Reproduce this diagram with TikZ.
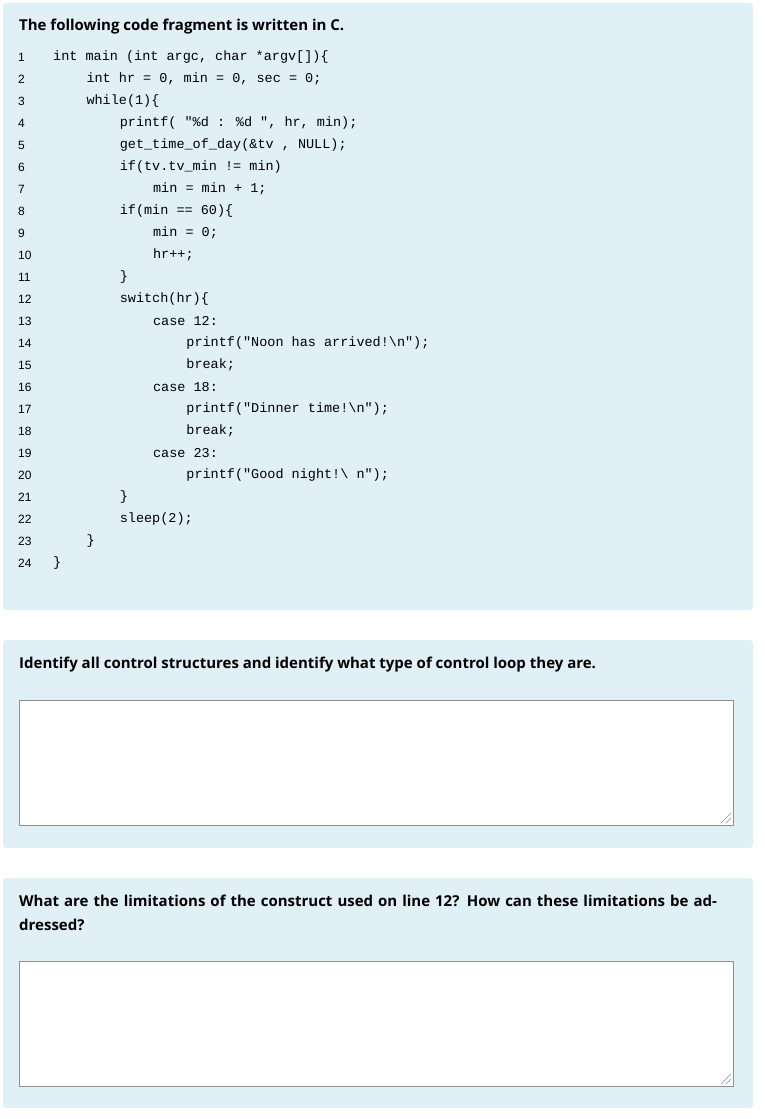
\documentclass[tikz,border=0pt]{standalone}
\usepackage{fontspec}
\setmainfont{Open Sans}
\newfontfamily\codefont{Liberation Mono}
\newfontfamily\numfont{Liberation Sans}
\definecolor{panel}{HTML}{E1EFF7}
\definecolor{boxline}{HTML}{8F8F8F}
\begin{document}
\begin{tikzpicture}[x=1pt,y=-1pt,
  title/.style={anchor=west,inner sep=0pt,font=\fontsize{15}{18}\selectfont\bfseries},
  ln/.style={anchor=west,inner sep=0pt,font=\numfont\fontsize{12}{14}\selectfont},
  code/.style={anchor=west,inner sep=0pt,font=\codefont\fontsize{13.5}{16}\selectfont},
  answer/.style={draw=boxline,fill=white,line width=0.8pt}]
\useasboundingbox (0,0) rectangle (765,1119);
\fill[white] (0,0) rectangle (765,1119);
\fill[panel,rounded corners=3pt] (3,3) rectangle (753,610);
\fill[panel,rounded corners=3pt] (3,640) rectangle (753,848);
\fill[panel,rounded corners=3pt] (3,878) rectangle (753,1108);
\node[title] (t1) at (19,27) {The following code fragment is written in C.};
\foreach \i/\lv/\txt in {
1/0/{int main (int argc, char *argv[])\{},
2/1/{int hr = 0, min = 0, sec = 0;},
3/1/{while(1)\{},
4/2/{printf( "\%d : \%d ", hr, min);},
5/2/{get\_time\_of\_day(\&tv , NULL);},
6/2/{if(tv.tv\_min != min)},
7/3/{min = min + 1;},
8/2/{if(min == 60)\{},
9/3/{min = 0;},
10/3/{hr++;},
11/2/{\}},
12/2/{switch(hr)\{},
13/3/{case 12:},
14/4/{printf("Noon has arrived!\textbackslash n");},
15/4/{break;},
16/3/{case 18:},
17/4/{printf("Dinner time!\textbackslash n");},
18/4/{break;},
19/3/{case 23:},
20/4/{printf("Good night!\textbackslash{} n");},
21/2/{\}},
22/2/{sleep(2);},
23/1/{\}},
24/0/{\}}}{
  \node[ln] (n\i) at (18,{57+22*(\i-1)}) {\i};
  \node[code] (c\i) at ({53+33.3*\lv},{57+22*(\i-1)}) {\txt};
}
\node[title] (t2) at (19,665) {Identify all control structures and identify what type of control loop they are.};
\draw[answer] (19,700) rectangle (733,825);
\node[title,text width=700pt,align=left,font=\fontsize{15}{24}\selectfont\bfseries] (t3) at (19,913) {What are the limitations of the construct used on line 12? How can these limitations be addressed?};
\draw[answer] (19,961) rectangle (733,1086);
\draw[boxline] (731,813) -- (721,823) (731,818) -- (726,823);
\draw[boxline] (731,1074) -- (721,1084) (731,1079) -- (726,1084);
\end{tikzpicture}
\end{document}
